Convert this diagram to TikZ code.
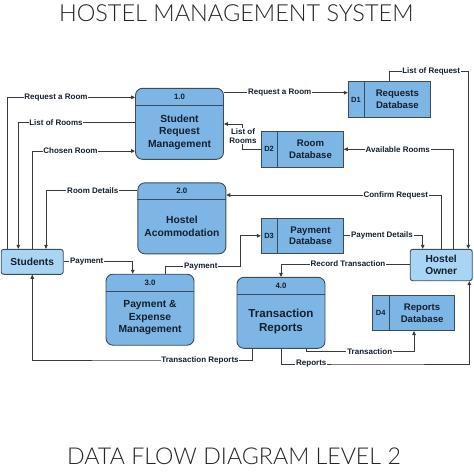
\documentclass[tikz,border=0pt]{standalone}
\usepackage{fontspec}
\setmainfont{Liberation Sans}
\newfontfamily\titlefont{Lato-Light.ttf}
\usetikzlibrary{arrows.meta,calc}
\definecolor{pfill}{HTML}{7DB5E5}
\definecolor{efill}{HTML}{A8D5F3}
\definecolor{bord}{HTML}{3B4B5C}
\definecolor{ink}{HTML}{14202E}
\definecolor{wire}{HTML}{3A3A3A}
\begin{document}
\begin{tikzpicture}[x=1pt,y=-1pt,
  proc/.style={draw=bord,fill=pfill,line width=0.9pt,rounded corners=7pt,minimum width=88pt,minimum height=71pt,inner sep=0pt},
  db/.style={draw=bord,fill=pfill,line width=0.9pt,minimum width=82pt,minimum height=35.5pt,inner sep=0pt},
  ent/.style={draw=bord,fill=efill,line width=0.9pt,rounded corners=2.5pt,minimum width=62pt,inner sep=0pt,align=center,text=ink,font=\bfseries\fontsize{10.2}{12.7}\selectfont},
  divline/.style={draw=bord,line width=0.9pt},
  pnum/.style={text=ink,font=\bfseries\fontsize{7.8}{9}\selectfont,inner sep=0pt},
  ptext/.style={text=ink,align=center,font=\bfseries\fontsize{10.3}{12.5}\selectfont,inner sep=0pt},
  dbid/.style={text=ink,font=\bfseries\fontsize{7.5}{9}\selectfont,inner sep=0pt},
  dbtext/.style={text=ink,align=center,font=\bfseries\fontsize{9.6}{11.7}\selectfont,inner sep=0pt},
  flow/.style={draw=wire,line width=0.8pt,-{Triangle[length=4pt,width=3.6pt]}},
  lbl/.style={fill=white,inner sep=0.8pt,text=ink,align=center,font=\bfseries\fontsize{8}{8.4}\selectfont},
  ttl/.style={text=black!85,inner sep=0pt}
]
\useasboundingbox (0,0) rectangle (474,474);
\fill[white] (0,0) rectangle (474,474);

% titles
\node[ttl,font=\titlefont\fontsize{23.5}{26}\selectfont] (t1) at (236.3,12.9) {HOSTEL MANAGEMENT SYSTEM};
\node[ttl,font=\titlefont\fontsize{23.2}{26}\selectfont] (t2) at (234,455.8) {DATA FLOW DIAGRAM LEVEL 2};

% processes
\node[proc] (p1) at (179.5,123.8) {};
\node[proc] (p2) at (181.9,218.3) {};
\node[proc] (p3) at (150,309.7) {};
\node[proc] (p4) at (281,312.8) {};
\foreach \p in {p1,p2,p3,p4}{
  \draw[divline] ($(\p.north west)+(0,17.5)$) -- ($(\p.north east)+(0,17.5)$);
}
\node[pnum] (p1n) at ($(p1.north)+(0,8.7)$) {1.0};
\node[pnum] (p2n) at ($(p2.north)+(0,8.7)$) {2.0};
\node[pnum] (p3n) at ($(p3.north)+(0,8.7)$) {3.0};
\node[pnum] (p4n) at ($(p4.north)+(0,8.7)$) {4.0};
\node[ptext] (p1t) at ($(p1.center)+(0,8.2)$) {Student\\Request\\Management};
\node[ptext] (p2t) at ($(p2.center)+(0,8.2)$) {Hostel\\Acommodation};
\node[ptext] (p3t) at ($(p3.center)+(0,8.2)$) {Payment \&\\Expense\\Management};
\node[ptext,font=\bfseries\fontsize{11.6}{14}\selectfont] (p4t) at ($(p4.center)+(0,8.2)$) {Transaction\\Reports};

% data stores
\node[db] (d1) at (389.2,99.5) {};
\node[db] (d2) at (302.3,149.2) {};
\node[db] (d3) at (302.3,235.8) {};
\node[db] (d4) at (413.9,312.9) {};
\foreach \d/\lab in {d1/D1,d2/D2,d3/D3,d4/D4}{
  \draw[divline] ($(\d.north west)+(16.5,0)$) -- ($(\d.south west)+(16.5,0)$);
  \node[dbid] (\d id) at ($(\d.west)+(8.2,0)$) {\lab};
}
\node[dbtext] (d1t) at ($(d1.center)+(8.2,0)$) {Requests\\Database};
\node[dbtext] (d2t) at ($(d2.center)+(8.2,0)$) {Room\\Database};
\node[dbtext] (d3t) at ($(d3.center)+(8.2,0)$) {Payment\\Database};
\node[dbtext] (d4t) at ($(d4.center)+(8.2,0)$) {Reports\\Database};

% external entities
\node[ent,minimum height=25pt] (st) at (32.2,261.8) {Students};
\node[ent,minimum height=31.4pt] (ow) at (441.2,265) {Hostel\\Owner};

% flows
\draw[flow] (st.north -| 7,0) |- (p1.west |- 0,97.3);
\draw[flow] (p1.west |- 0,122.7) -| (st.north -| 18.3,0);
\draw[flow] (st.north -| 32.3,0) |- (p1.west |- 0,151);
\draw[flow] (p2.west |- 0,190.7) -| (st.north -| 46,0);
\draw[flow] (st.east |- 0,261.7) -| (p3.north -| 132.7,0);
\draw[flow] (p3.north -| 165.7,0) |- (240.7,266.7) |- (d3.west);
\draw[flow] (d3.east) -| (ow.north -| 422.7,0);
\draw[flow] (ow.west |- 0,264) -| (p4.north -| 281,0);
\draw[flow] (p4.south -| 306,0) |- (360,351.7) -| (d4.south -| 414,0);
\draw[flow] (p4.south -| 281,0) |- (380,364) -| (ow.south -| 469.3,0);
\draw[flow] (p4.south -| 252.3,0) |- (150,360) -| (st.south -| 32.3,0);
\draw[flow] (p1.east |- 0,92.7) -- (d1.west |- 0,92.7);
\draw[flow] (d1.north -| 389.3,0) |- (420,71.7) -| (ow.north -| 468.3,0);
\draw[flow] (d2.west) -| (242.7,124) -- (p1.east |- 0,124);
\draw[flow] (ow.north -| 453.3,0) |- (d2.east);
\draw[flow] (ow.north -| 441.7,0) |- (p2.east |- 0,195);

% flow labels
\node[lbl] (l1) at (56,97.3) {Request a Room};
\node[lbl] (l2) at (56,122.7) {List of Rooms};
\node[lbl] (l3) at (70.5,151) {Chosen Room};
\node[lbl] (l4) at (92.8,190.7) {Room Details};
\node[lbl] (l5) at (86.7,261.7) {Payment};
\node[lbl] (l6) at (200.8,266.7) {Payment};
\node[lbl] (l7) at (382,235.3) {Payment Details};
\node[lbl] (l8) at (348,264) {Record Transaction};
\node[lbl] (l9) at (369.7,351.7) {Transaction};
\node[lbl] (l10) at (311.3,364) {Reports};
\node[lbl] (l11) at (200,360) {Transaction Reports};
\node[lbl] (l12) at (279.7,92.7) {Request a Room};
\node[lbl] (l13) at (431.2,71.7) {List of Request};
\node[lbl] (l14) at (243,136) {List of\\Rooms};
\node[lbl] (l15) at (397.8,149.2) {Available Rooms};
\node[lbl] (l16) at (395.8,195) {Confirm Request};
\end{tikzpicture}
\end{document}
